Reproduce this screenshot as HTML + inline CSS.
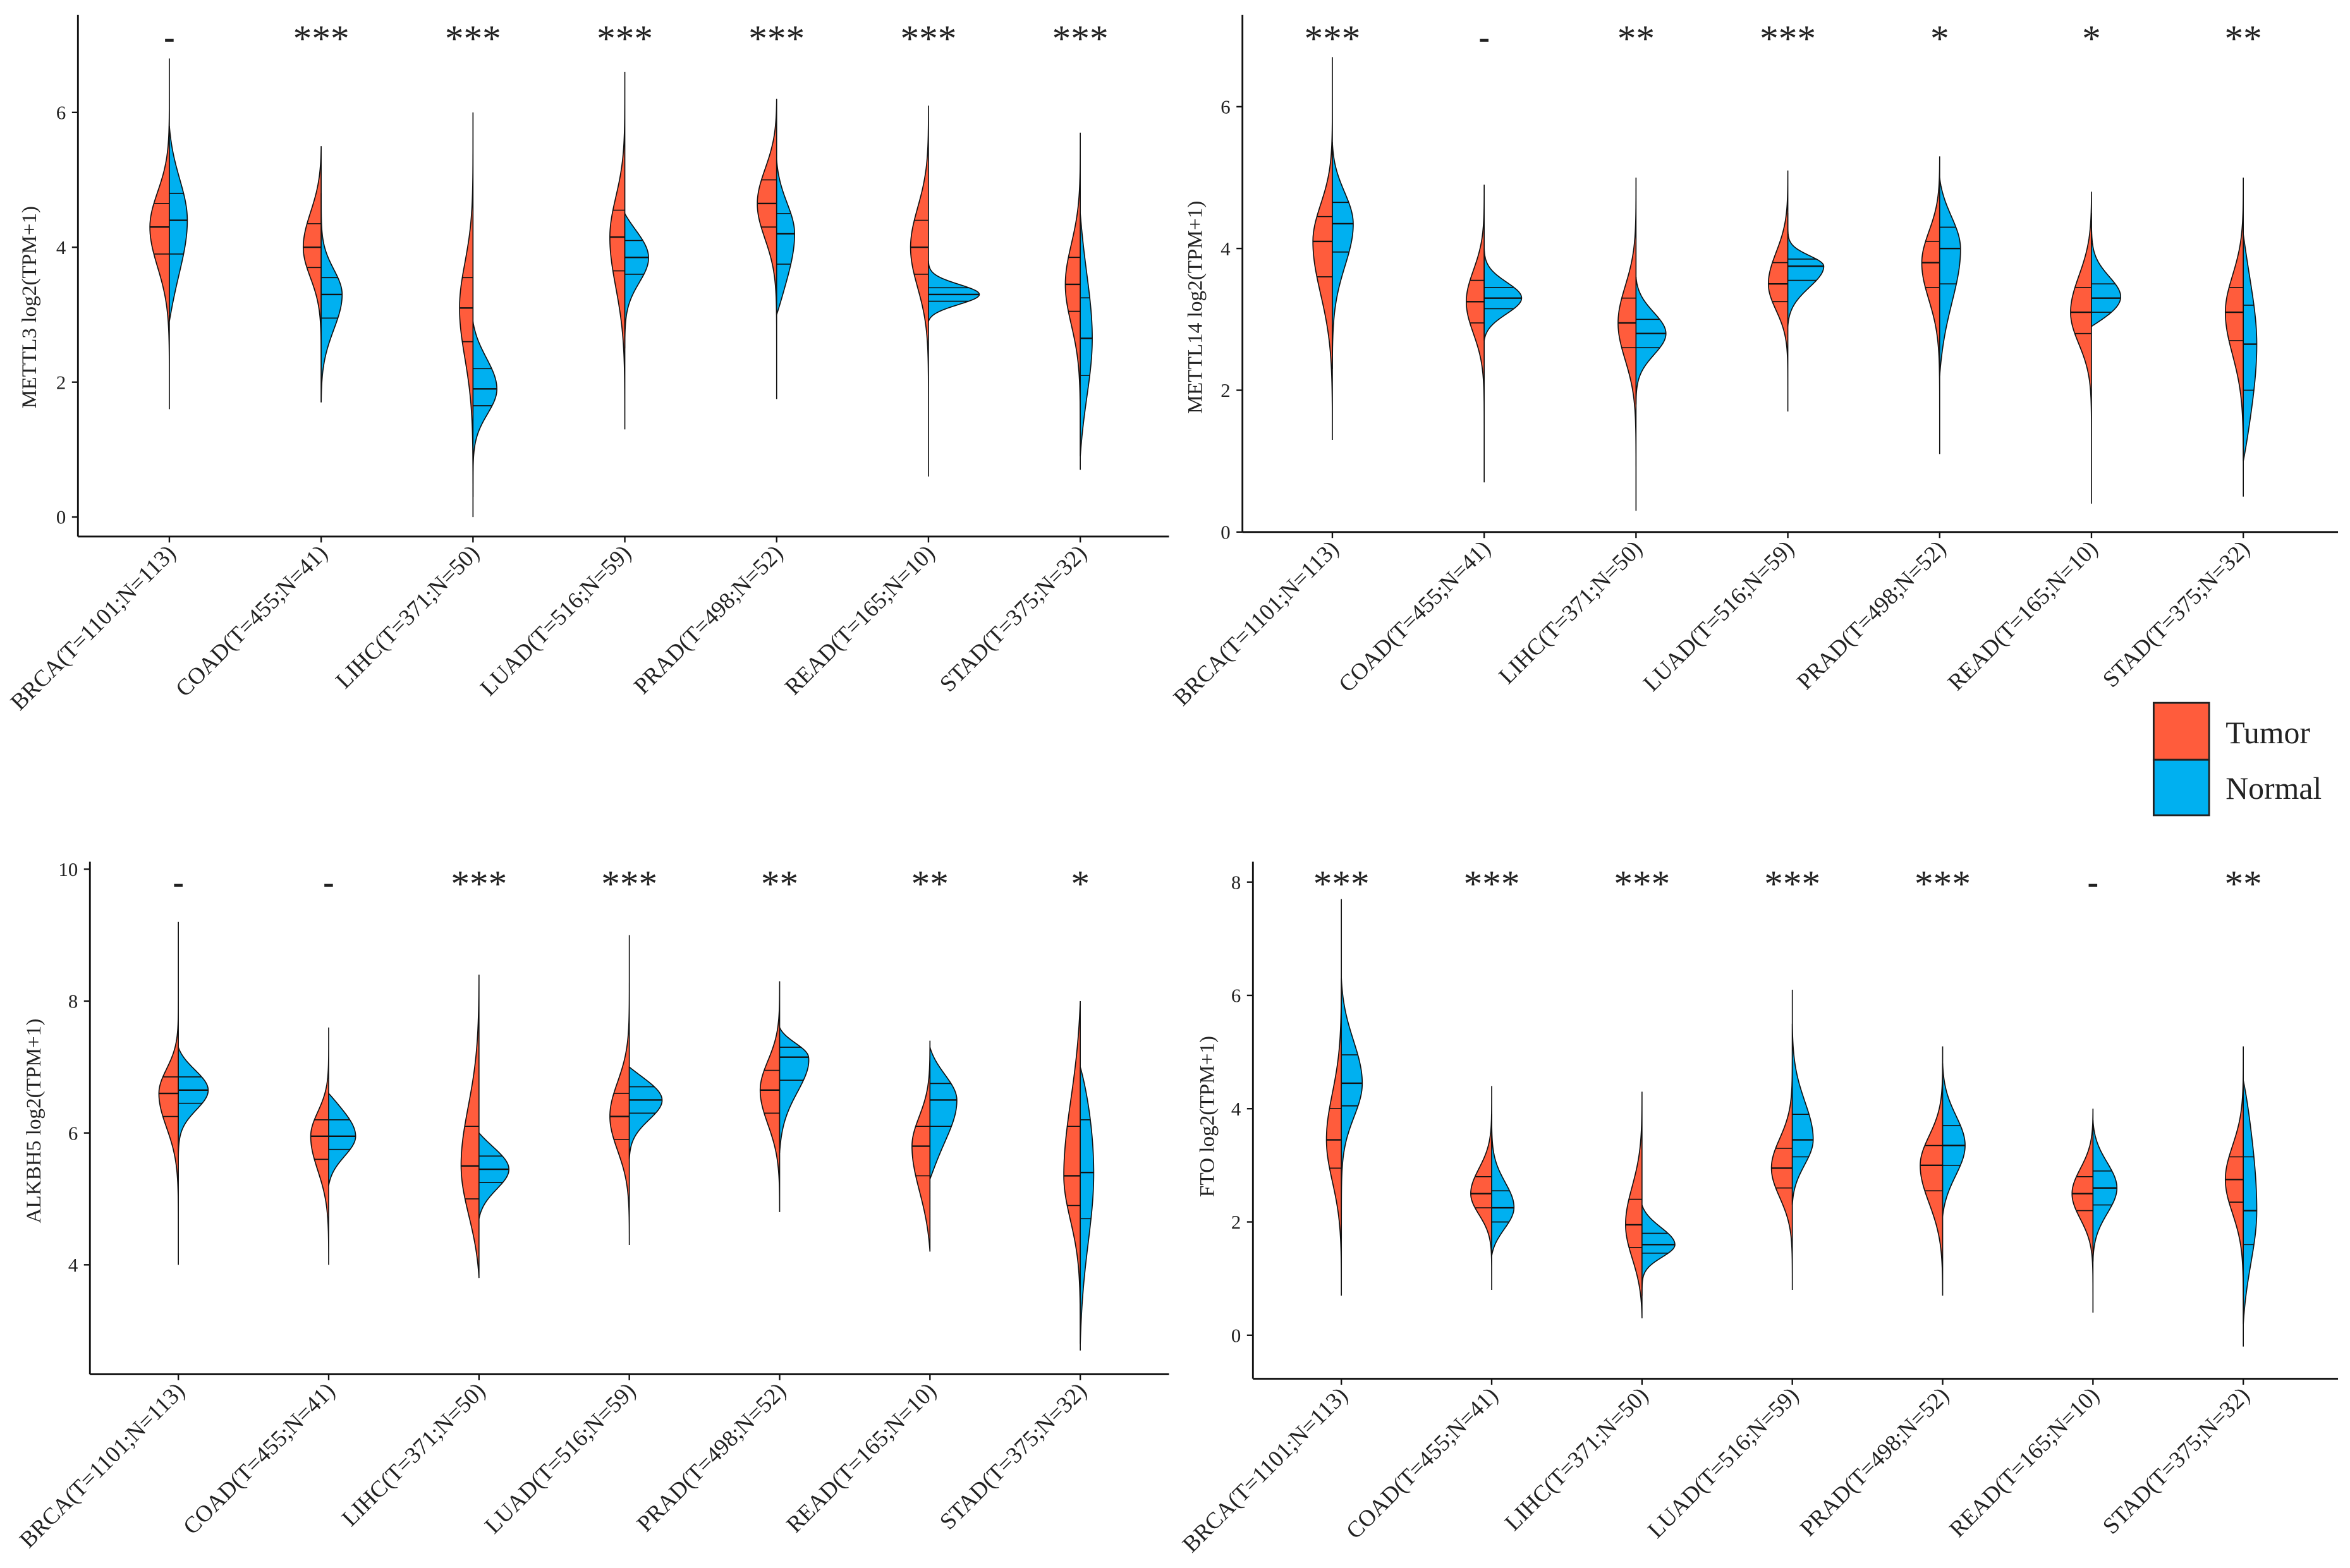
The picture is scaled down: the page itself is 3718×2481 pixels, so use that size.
<!DOCTYPE html>
<html><head><meta charset="utf-8"><style>
html,body{margin:0;padding:0;background:#fff;}
svg{display:block;}
text{font-family:"Liberation Serif",serif;fill:#222;}
</style></head><body>
<svg id="chart" width="3718" height="2481" viewBox="0 0 1568 1046.3" preserveAspectRatio="none" xmlns="http://www.w3.org/2000/svg">
<rect x="0" y="0" width="1568" height="1046.3" fill="#fff"/>
<g id="legend">
<rect x="1437" y="469" width="37" height="38" fill="#FF5C3C" stroke="#222" stroke-width="1.2"/>
<rect x="1437" y="507" width="37" height="37" fill="#00B0F0" stroke="#222" stroke-width="1.2"/>
<text x="1485" y="496" font-size="21">Tumor</text>
<text x="1485" y="533" font-size="21">Normal</text>
</g>
</svg>
<script>
const categories = ["BRCA(T=1101;N=113)","COAD(T=455;N=41)","LIHC(T=371;N=50)","LUAD(T=516;N=59)","PRAD(T=498;N=52)","READ(T=165;N=10)","STAD(T=375;N=32)"];
// each group: [min, max, q1, median, q3, halfWidth]
const mettl3Tumor = [[1.6,6.8,3.9,4.3,4.65,13],[1.7,5.5,3.7,4.0,4.35,12],[0,6.0,2.6,3.1,3.55,9],[1.3,6.6,3.65,4.15,4.55,10],[1.75,6.2,4.3,4.65,5.0,13],[0.6,6.1,3.6,4.0,4.4,12],[0.7,5.7,3.05,3.45,3.85,10]];
const mettl3Normal = [[2.9,5.8,3.9,4.4,4.8,12],[1.7,4.8,2.95,3.3,3.55,14],[0.3,2.9,1.65,1.9,2.2,16],[2.5,4.5,3.6,3.85,4.1,16],[3.0,5.3,3.75,4.2,4.5,12],[2.9,3.8,3.2,3.3,3.4,34],[0.9,4.5,2.1,2.65,3.25,8]];
const mettl3Sig = ["-","***","***","***","***","***","***"];
const mettl14Tumor = [[1.3,6.7,3.6,4.1,4.45,13],[0.7,4.9,2.95,3.25,3.55,12],[0.3,5.0,2.6,2.95,3.3,12],[1.7,5.1,3.25,3.5,3.8,13],[1.1,5.3,3.45,3.8,4.1,12],[0.4,4.8,2.8,3.1,3.45,14],[0.5,5.0,2.7,3.1,3.45,12]];
const mettl14Normal = [[2.3,5.5,3.95,4.35,4.65,14],[2.7,4.0,3.15,3.3,3.45,25],[1.8,3.6,2.6,2.8,3.0,20],[2.9,4.5,3.55,3.75,3.85,24],[2.2,5.0,3.5,4.0,4.3,14],[2.9,4.5,3.1,3.3,3.5,20],[1.0,4.2,2.0,2.65,3.2,9]];
const mettl14Sig = ["***","-","**","***","*","*","**"];
const alkbh5Tumor = [[4.0,9.2,6.25,6.6,6.85,13],[4.0,7.6,5.6,5.95,6.2,12],[3.8,8.4,5.0,5.5,6.1,12],[4.3,9.0,5.9,6.25,6.6,13],[4.8,8.3,6.3,6.65,6.95,13],[4.2,7.4,5.35,5.8,6.1,12],[2.7,8.0,4.9,5.35,6.1,11]];
const alkbh5Normal = [[5.6,7.3,6.45,6.65,6.85,20],[5.2,6.6,5.75,5.95,6.2,18],[4.7,6.0,5.25,5.45,5.65,20],[5.6,7.0,6.3,6.5,6.7,22],[5.7,7.6,6.8,7.15,7.3,20],[5.3,7.3,6.1,6.5,6.75,18],[2.8,7.0,4.7,5.4,6.2,9]];
const alkbh5Sig = ["-","-","***","***","**","**","*"];
const ftoTumor = [[0.7,7.7,2.95,3.45,4.0,10],[0.8,4.4,2.25,2.5,2.8,14],[0.3,4.3,1.55,1.95,2.4,11],[0.8,6.1,2.6,2.95,3.3,14],[0.7,5.1,2.55,3.0,3.35,15],[0.4,4.0,2.2,2.5,2.8,14],[-0.2,5.1,2.35,2.75,3.15,12]];
const ftoNormal = [[1.7,6.3,4.05,4.45,4.95,14],[1.4,3.9,2.0,2.25,2.55,15],[0.7,2.3,1.45,1.6,1.8,22],[2.3,5.5,3.15,3.45,3.9,14],[2.1,4.8,3.0,3.35,3.7,15],[1.3,3.8,2.3,2.6,2.9,16],[0.2,4.5,1.6,2.2,3.15,9]];
const ftoSig = ["***","***","***","***","***","-","**"];
const mettl3Ticks = [0,2,4,6];
const mettl14Ticks = [0,2,4,6];
const alkbh5Ticks = [4,6,8,10];
const ftoTicks = [0,2,4,6,8];

const NS="http://www.w3.org/2000/svg";
const svg=document.getElementById('chart');
function mk(tag,attrs,parent){const e=document.createElementNS(NS,tag);for(const k in attrs)e.setAttribute(k,attrs[k]);parent.appendChild(e);return e;}

const panels=[
 {key:"mettl3",gene:"METTL3",tumor:mettl3Tumor,normal:mettl3Normal,sig:mettl3Sig,ticks:mettl3Ticks,ax:52,top:10,axY:358,right:780,v0:0,y0:345,ppu:45,x0:113,dx:101.3,sigY:26,labX:24,labY:205},
 {key:"mettl14",gene:"METTL14",tumor:mettl14Tumor,normal:mettl14Normal,sig:mettl14Sig,ticks:mettl14Ticks,ax:829,top:10,axY:355,right:1560,v0:0,y0:355,ppu:47.3,x0:889,dx:101.3,sigY:26,labX:802,labY:205},
 {key:"alkbh5",gene:"ALKBH5",tumor:alkbh5Tumor,normal:alkbh5Normal,sig:alkbh5Sig,ticks:alkbh5Ticks,ax:60,top:575,axY:917,right:780,v0:10,y0:580,ppu:-44,x0:119,dx:100.3,sigY:590,labX:27,labY:748},
 {key:"fto",gene:"FTO",tumor:ftoTumor,normal:ftoNormal,sig:ftoSig,ticks:ftoTicks,ax:836,top:575,axY:920,right:1560,v0:0,y0:891,ppu:37.8,x0:895,dx:100.3,sigY:590,labX:810,labY:745}
];

function halfViolin(g,cx,d,dir,yOf,color,name){
 const [mn,mx,q1,md,q3,w]=d;
 const sdL=Math.max((md-q1)/0.674,0.05), sdH=Math.max((q3-md)/0.674,0.05);
 const dens=v=>{const sd=v<md?sdL:sdH;const z=(v-md)/sd;
   const t=Math.min(v-mn,mx-v)/(mx-mn);const taper=1-Math.exp(-Math.max(t,0)/0.07);
   return w*Math.exp(-z*z/2)*taper;};
 const n=100;let pts=[];
 for(let i=0;i<=n;i++){const v=mn+(mx-mn)*i/n;pts.push([cx+dir*dens(v),yOf(v)]);}
 let dstr="M"+cx+","+yOf(mn)+" "+pts.map(p=>"L"+p[0].toFixed(2)+","+p[1].toFixed(2)).join(" ")+" L"+cx+","+yOf(mx)+" Z";
 const p=mk('path',{d:dstr,fill:color,stroke:"#111","stroke-width":0.7},g);
 
 
 [q1,md,q3].forEach((q,qi)=>{
  const l=mk('line',{x1:cx,x2:cx+dir*dens(q),y1:yOf(q),y2:yOf(q),stroke:"#111","stroke-width":qi==1?1:0.7},g);
  
  
 });
}

panels.forEach(P=>{
 const g=mk('g',{},svg);
 
 
 const yOf=v=>P.y0+(P.ppu>0?(P.v0-v)*P.ppu:(v-P.v0)*P.ppu);
 const ya=mk('line',{x1:P.ax,x2:P.ax,y1:P.top,y2:P.axY,stroke:"#111","stroke-width":1.2},g);
 
 
 const xa=mk('line',{x1:P.ax,x2:P.right,y1:P.axY,y2:P.axY,stroke:"#111","stroke-width":1.2},g);
 
 
 P.ticks.forEach(t=>{
  const y=yOf(t);
  const tk=mk('line',{x1:P.ax-4,x2:P.ax,y1:y,y2:y,stroke:"#111","stroke-width":1},g);
  
  
  const tl=mk('text',{x:P.ax-8,y:y+4.5,"font-size":13,"text-anchor":"end"},g);
  tl.textContent=t;
  
  
 });
 const yl=mk('text',{x:P.labX,y:P.labY,"font-size":14,"text-anchor":"middle",transform:`rotate(-90 ${P.labX} ${P.labY})`},g);
 yl.textContent=P.gene+"  log2(TPM+1)";
 
 
 categories.forEach((c,i)=>{
  const cx=P.x0+i*P.dx;
  halfViolin(g,cx,P.tumor[i],-1,yOf,"#FF5C3C",P.key+'-violin-tumor-'+i);
  halfViolin(g,cx,P.normal[i],1,yOf,"#00B0F0",P.key+'-violin-normal-'+i);
  const xt=mk('line',{x1:cx,x2:cx,y1:P.axY,y2:P.axY+4,stroke:"#111","stroke-width":1},g);
  
  
  const lx=cx+5, ly=P.axY+12;
  const xl=mk('text',{x:lx,y:ly,"font-size":15.5,"text-anchor":"end",transform:`rotate(-45 ${lx} ${ly})`},g);
  xl.textContent=c;
  
  
  const s=P.sig[i];
  const st=mk('text',{x:cx,y:s=="-"?P.sigY+6:P.sigY+8,"font-size":s=="-"?22:25,"text-anchor":"middle","font-weight":s=="-"?"bold":"normal"},g);
  st.textContent=s;
  
  
 });
});
</script>
</body></html>
